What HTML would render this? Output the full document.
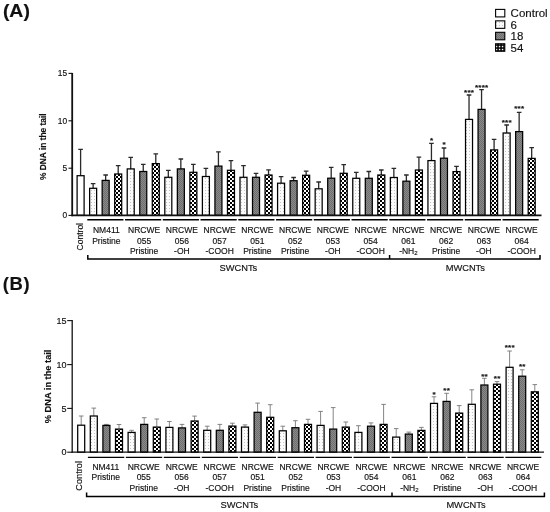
<!DOCTYPE html>
<html><head><meta charset="utf-8"><title>Figure</title>
<style>html,body{margin:0;padding:0;background:#fff}svg{display:block}text{font-family:'Liberation Sans', Arial, Helvetica, sans-serif;fill:#111;stroke:#111;stroke-width:.15px}</style>
</head><body>
<svg width="550" height="512" viewBox="0 0 550 512">
<defs>
<pattern id="p6" width="3" height="3" patternUnits="userSpaceOnUse"><rect width="3" height="3" fill="#fbfbfb"/><rect x="1" y="1" width="1" height="1" fill="#c4c4c4"/></pattern>
<pattern id="p18" width="2" height="2" patternUnits="userSpaceOnUse"><rect width="2" height="2" fill="#8a8a8a"/><rect width="1" height="1" fill="#6e6e6e"/><rect x="1" y="1" width="1" height="1" fill="#6e6e6e"/></pattern>
<pattern id="p54" width="4" height="4" patternUnits="userSpaceOnUse"><rect width="4" height="4" fill="#fff"/><rect width="2" height="2" fill="#000"/><rect x="2" y="2" width="2" height="2" fill="#000"/></pattern>
<pattern id="p54l" width="3" height="3" patternUnits="userSpaceOnUse"><rect width="3" height="3" fill="#000"/><rect x="0.8" y="0.8" width="1.5" height="1.5" fill="#fff"/></pattern>
</defs>
<rect width="550" height="512" fill="#fff"/>
<text transform="translate(2.9 17.4) scale(1.08 1.02)" font-size="18" font-weight="bold" fill="#000" stroke="#000" stroke-width="0.35">(A)</text>
<text y="290.4" font-size="18.4" font-weight="bold" fill="#000" stroke="#000" stroke-width="0.3"><tspan x="2.8">(</tspan><tspan x="9.6">B</tspan><tspan x="23.4">)</tspan></text>
<rect x="495.6" y="9.40" width="9.2" height="7.5" fill="#fff" stroke="#000" stroke-width="1.1"/>
<text x="510.6" y="17.30" font-size="11.5">Control</text>
<rect x="495.6" y="20.85" width="9.2" height="7.5" fill="url(#p6)" stroke="#000" stroke-width="1.1"/>
<text x="510.6" y="28.70" font-size="11.5">6</text>
<rect x="495.6" y="32.30" width="9.2" height="7.5" fill="url(#p18)" stroke="#000" stroke-width="1.1"/>
<text x="510.6" y="40.10" font-size="11.5">18</text>
<rect x="495.6" y="43.75" width="9.2" height="7.5" fill="url(#p54l)" stroke="#000" stroke-width="1.1"/>
<text x="510.6" y="51.50" font-size="11.5">54</text>
<path d="M80.60 175.70V149.30M78.30 149.30H82.90" stroke="#2a2a2a" stroke-width="1.3" fill="none"/>
<path d="M93.13 188.30V183.70M90.83 183.70H95.43" stroke="#2a2a2a" stroke-width="1.3" fill="none"/>
<path d="M105.66 180.40V175.00M103.36 175.00H107.96" stroke="#2a2a2a" stroke-width="1.3" fill="none"/>
<path d="M118.19 174.00V165.60M115.89 165.60H120.49" stroke="#2a2a2a" stroke-width="1.3" fill="none"/>
<path d="M130.72 168.90V157.40M128.42 157.40H133.02" stroke="#2a2a2a" stroke-width="1.3" fill="none"/>
<path d="M143.25 171.50V164.40M140.95 164.40H145.55" stroke="#2a2a2a" stroke-width="1.3" fill="none"/>
<path d="M155.78 163.60V153.80M153.48 153.80H158.08" stroke="#2a2a2a" stroke-width="1.3" fill="none"/>
<path d="M168.31 177.30V170.30M166.01 170.30H170.61" stroke="#2a2a2a" stroke-width="1.3" fill="none"/>
<path d="M180.84 168.90V159.00M178.54 159.00H183.14" stroke="#2a2a2a" stroke-width="1.3" fill="none"/>
<path d="M193.37 172.30V164.40M191.07 164.40H195.67" stroke="#2a2a2a" stroke-width="1.3" fill="none"/>
<path d="M205.90 176.50V168.30M203.60 168.30H208.20" stroke="#2a2a2a" stroke-width="1.3" fill="none"/>
<path d="M218.43 166.10V151.80M216.13 151.80H220.73" stroke="#2a2a2a" stroke-width="1.3" fill="none"/>
<path d="M230.96 170.30V160.70M228.66 160.70H233.26" stroke="#2a2a2a" stroke-width="1.3" fill="none"/>
<path d="M243.49 177.30V165.60M241.19 165.60H245.79" stroke="#2a2a2a" stroke-width="1.3" fill="none"/>
<path d="M256.02 177.30V173.30M253.72 173.30H258.32" stroke="#2a2a2a" stroke-width="1.3" fill="none"/>
<path d="M268.55 175.00V169.80M266.25 169.80H270.85" stroke="#2a2a2a" stroke-width="1.3" fill="none"/>
<path d="M281.08 183.20V176.70M278.78 176.70H283.38" stroke="#2a2a2a" stroke-width="1.3" fill="none"/>
<path d="M293.61 180.70V177.50M291.31 177.50H295.91" stroke="#2a2a2a" stroke-width="1.3" fill="none"/>
<path d="M306.14 175.30V171.10M303.84 171.10H308.44" stroke="#2a2a2a" stroke-width="1.3" fill="none"/>
<path d="M318.67 188.80V182.00M316.37 182.00H320.97" stroke="#2a2a2a" stroke-width="1.3" fill="none"/>
<path d="M331.20 178.20V167.40M328.90 167.40H333.50" stroke="#2a2a2a" stroke-width="1.3" fill="none"/>
<path d="M343.73 173.30V164.70M341.43 164.70H346.03" stroke="#2a2a2a" stroke-width="1.3" fill="none"/>
<path d="M356.26 178.30V172.30M353.96 172.30H358.56" stroke="#2a2a2a" stroke-width="1.3" fill="none"/>
<path d="M368.79 178.30V171.50M366.49 171.50H371.09" stroke="#2a2a2a" stroke-width="1.3" fill="none"/>
<path d="M381.32 175.00V170.00M379.02 170.00H383.62" stroke="#2a2a2a" stroke-width="1.3" fill="none"/>
<path d="M393.85 177.50V168.30M391.55 168.30H396.15" stroke="#2a2a2a" stroke-width="1.3" fill="none"/>
<path d="M406.38 181.20V175.00M404.08 175.00H408.68" stroke="#2a2a2a" stroke-width="1.3" fill="none"/>
<path d="M418.91 170.00V157.20M416.61 157.20H421.21" stroke="#2a2a2a" stroke-width="1.3" fill="none"/>
<path d="M431.44 160.60V143.40M429.14 143.40H433.74" stroke="#2a2a2a" stroke-width="1.3" fill="none"/>
<path d="M443.97 158.20V148.00M441.67 148.00H446.27" stroke="#2a2a2a" stroke-width="1.3" fill="none"/>
<path d="M456.50 171.60V166.40M454.20 166.40H458.80" stroke="#2a2a2a" stroke-width="1.3" fill="none"/>
<path d="M469.03 119.40V95.00M466.73 95.00H471.33" stroke="#2a2a2a" stroke-width="1.3" fill="none"/>
<path d="M481.56 109.40V89.60M479.26 89.60H483.86" stroke="#2a2a2a" stroke-width="1.3" fill="none"/>
<path d="M494.09 149.90V139.30M491.79 139.30H496.39" stroke="#2a2a2a" stroke-width="1.3" fill="none"/>
<path d="M506.62 133.00V125.00M504.32 125.00H508.92" stroke="#2a2a2a" stroke-width="1.3" fill="none"/>
<path d="M519.15 131.60V112.40M516.85 112.40H521.45" stroke="#2a2a2a" stroke-width="1.3" fill="none"/>
<path d="M531.68 158.40V147.60M529.38 147.60H533.98" stroke="#2a2a2a" stroke-width="1.3" fill="none"/>
<rect x="77.10" y="175.70" width="7" height="39.70" fill="#fff" stroke="#000" stroke-width="1.25"/>
<rect x="89.63" y="188.30" width="7" height="27.10" fill="url(#p6)" stroke="#000" stroke-width="1.25"/>
<rect x="102.16" y="180.40" width="7" height="35.00" fill="url(#p18)" stroke="#000" stroke-width="1.25"/>
<rect x="114.69" y="174.00" width="7" height="41.40" fill="url(#p54)" stroke="#000" stroke-width="1.25"/>
<rect x="127.22" y="168.90" width="7" height="46.50" fill="url(#p6)" stroke="#000" stroke-width="1.25"/>
<rect x="139.75" y="171.50" width="7" height="43.90" fill="url(#p18)" stroke="#000" stroke-width="1.25"/>
<rect x="152.28" y="163.60" width="7" height="51.80" fill="url(#p54)" stroke="#000" stroke-width="1.25"/>
<rect x="164.81" y="177.30" width="7" height="38.10" fill="url(#p6)" stroke="#000" stroke-width="1.25"/>
<rect x="177.34" y="168.90" width="7" height="46.50" fill="url(#p18)" stroke="#000" stroke-width="1.25"/>
<rect x="189.87" y="172.30" width="7" height="43.10" fill="url(#p54)" stroke="#000" stroke-width="1.25"/>
<rect x="202.40" y="176.50" width="7" height="38.90" fill="url(#p6)" stroke="#000" stroke-width="1.25"/>
<rect x="214.93" y="166.10" width="7" height="49.30" fill="url(#p18)" stroke="#000" stroke-width="1.25"/>
<rect x="227.46" y="170.30" width="7" height="45.10" fill="url(#p54)" stroke="#000" stroke-width="1.25"/>
<rect x="239.99" y="177.30" width="7" height="38.10" fill="url(#p6)" stroke="#000" stroke-width="1.25"/>
<rect x="252.52" y="177.30" width="7" height="38.10" fill="url(#p18)" stroke="#000" stroke-width="1.25"/>
<rect x="265.05" y="175.00" width="7" height="40.40" fill="url(#p54)" stroke="#000" stroke-width="1.25"/>
<rect x="277.58" y="183.20" width="7" height="32.20" fill="url(#p6)" stroke="#000" stroke-width="1.25"/>
<rect x="290.11" y="180.70" width="7" height="34.70" fill="url(#p18)" stroke="#000" stroke-width="1.25"/>
<rect x="302.64" y="175.30" width="7" height="40.10" fill="url(#p54)" stroke="#000" stroke-width="1.25"/>
<rect x="315.17" y="188.80" width="7" height="26.60" fill="url(#p6)" stroke="#000" stroke-width="1.25"/>
<rect x="327.70" y="178.20" width="7" height="37.20" fill="url(#p18)" stroke="#000" stroke-width="1.25"/>
<rect x="340.23" y="173.30" width="7" height="42.10" fill="url(#p54)" stroke="#000" stroke-width="1.25"/>
<rect x="352.76" y="178.30" width="7" height="37.10" fill="url(#p6)" stroke="#000" stroke-width="1.25"/>
<rect x="365.29" y="178.30" width="7" height="37.10" fill="url(#p18)" stroke="#000" stroke-width="1.25"/>
<rect x="377.82" y="175.00" width="7" height="40.40" fill="url(#p54)" stroke="#000" stroke-width="1.25"/>
<rect x="390.35" y="177.50" width="7" height="37.90" fill="url(#p6)" stroke="#000" stroke-width="1.25"/>
<rect x="402.88" y="181.20" width="7" height="34.20" fill="url(#p18)" stroke="#000" stroke-width="1.25"/>
<rect x="415.41" y="170.00" width="7" height="45.40" fill="url(#p54)" stroke="#000" stroke-width="1.25"/>
<rect x="427.94" y="160.60" width="7" height="54.80" fill="url(#p6)" stroke="#000" stroke-width="1.25"/>
<rect x="440.47" y="158.20" width="7" height="57.20" fill="url(#p18)" stroke="#000" stroke-width="1.25"/>
<rect x="453.00" y="171.60" width="7" height="43.80" fill="url(#p54)" stroke="#000" stroke-width="1.25"/>
<rect x="465.53" y="119.40" width="7" height="96.00" fill="url(#p6)" stroke="#000" stroke-width="1.25"/>
<rect x="478.06" y="109.40" width="7" height="106.00" fill="url(#p18)" stroke="#000" stroke-width="1.25"/>
<rect x="490.59" y="149.90" width="7" height="65.50" fill="url(#p54)" stroke="#000" stroke-width="1.25"/>
<rect x="503.12" y="133.00" width="7" height="82.40" fill="url(#p6)" stroke="#000" stroke-width="1.25"/>
<rect x="515.65" y="131.60" width="7" height="83.80" fill="url(#p18)" stroke="#000" stroke-width="1.25"/>
<rect x="528.18" y="158.40" width="7" height="57.00" fill="url(#p54)" stroke="#000" stroke-width="1.25"/>
<text x="431.59" y="142.80" font-size="8" font-weight="bold" text-anchor="middle" letter-spacing="0.3" stroke="none" fill="#000">*</text>
<text x="444.12" y="147.40" font-size="8" font-weight="bold" text-anchor="middle" letter-spacing="0.3" stroke="none" fill="#000">*</text>
<text x="469.18" y="94.70" font-size="8" font-weight="bold" text-anchor="middle" letter-spacing="0.3" stroke="none" fill="#000">***</text>
<text x="481.71" y="90.00" font-size="8" font-weight="bold" text-anchor="middle" letter-spacing="0.3" stroke="none" fill="#000">****</text>
<text x="506.77" y="124.50" font-size="8" font-weight="bold" text-anchor="middle" letter-spacing="0.3" stroke="none" fill="#000">***</text>
<text x="519.30" y="111.40" font-size="8" font-weight="bold" text-anchor="middle" letter-spacing="0.3" stroke="none" fill="#000">***</text>
<path d="M72.2 72.90V216.20" stroke="#111" stroke-width="1.8" fill="none"/>
<path d="M71.30 215.40H541.5" stroke="#111" stroke-width="1.6" fill="none"/>
<path d="M68.5 73.40H72.2" stroke="#111" stroke-width="1.1" fill="none"/>
<text x="67.2" y="76.42" font-size="8.4" text-anchor="end">15</text>
<path d="M68.5 120.80H72.2" stroke="#111" stroke-width="1.1" fill="none"/>
<text x="67.2" y="123.82" font-size="8.4" text-anchor="end">10</text>
<path d="M68.5 168.20H72.2" stroke="#111" stroke-width="1.1" fill="none"/>
<text x="67.2" y="171.22" font-size="8.4" text-anchor="end">5</text>
<path d="M68.5 215.40H72.2" stroke="#111" stroke-width="1.1" fill="none"/>
<text x="67.2" y="218.42" font-size="8.4" text-anchor="end">0</text>
<text transform="translate(46.3 146.7) rotate(-90)" font-size="8.4" font-weight="bold" text-anchor="middle" stroke-width="0.3">% DNA in the tail</text>
<text transform="translate(83 223) rotate(-90)" font-size="8.5" text-anchor="end">Control</text>
<path d="M87.30 219.8H123.45" stroke="#000" stroke-width="1.4" fill="none"/>
<text x="106.38" y="233.30" font-size="8.5" text-anchor="middle">NM411</text>
<text x="106.38" y="243.55" font-size="8.5" text-anchor="middle">Pristine</text>
<path d="M125.05 219.8H161.20" stroke="#000" stroke-width="1.4" fill="none"/>
<text x="144.12" y="233.30" font-size="8.5" text-anchor="middle">NRCWE</text>
<text x="144.12" y="243.55" font-size="8.5" text-anchor="middle">055</text>
<text x="144.12" y="253.80" font-size="8.5" text-anchor="middle">Pristine</text>
<path d="M162.80 219.8H198.95" stroke="#000" stroke-width="1.4" fill="none"/>
<text x="181.88" y="233.30" font-size="8.5" text-anchor="middle">NRCWE</text>
<text x="181.88" y="243.55" font-size="8.5" text-anchor="middle">056</text>
<text x="181.88" y="253.80" font-size="8.5" text-anchor="middle">-OH</text>
<path d="M200.55 219.8H236.70" stroke="#000" stroke-width="1.4" fill="none"/>
<text x="219.62" y="233.30" font-size="8.5" text-anchor="middle">NRCWE</text>
<text x="219.62" y="243.55" font-size="8.5" text-anchor="middle">057</text>
<text x="219.62" y="253.80" font-size="8.5" text-anchor="middle">-COOH</text>
<path d="M238.30 219.8H274.45" stroke="#000" stroke-width="1.4" fill="none"/>
<text x="257.38" y="233.30" font-size="8.5" text-anchor="middle">NRCWE</text>
<text x="257.38" y="243.55" font-size="8.5" text-anchor="middle">051</text>
<text x="257.38" y="253.80" font-size="8.5" text-anchor="middle">Pristine</text>
<path d="M276.05 219.8H312.20" stroke="#000" stroke-width="1.4" fill="none"/>
<text x="295.12" y="233.30" font-size="8.5" text-anchor="middle">NRCWE</text>
<text x="295.12" y="243.55" font-size="8.5" text-anchor="middle">052</text>
<text x="295.12" y="253.80" font-size="8.5" text-anchor="middle">Pristine</text>
<path d="M313.80 219.8H349.95" stroke="#000" stroke-width="1.4" fill="none"/>
<text x="332.88" y="233.30" font-size="8.5" text-anchor="middle">NRCWE</text>
<text x="332.88" y="243.55" font-size="8.5" text-anchor="middle">053</text>
<text x="332.88" y="253.80" font-size="8.5" text-anchor="middle">-OH</text>
<path d="M351.55 219.8H387.70" stroke="#000" stroke-width="1.4" fill="none"/>
<text x="370.62" y="233.30" font-size="8.5" text-anchor="middle">NRCWE</text>
<text x="370.62" y="243.55" font-size="8.5" text-anchor="middle">054</text>
<text x="370.62" y="253.80" font-size="8.5" text-anchor="middle">-COOH</text>
<path d="M389.30 219.8H425.45" stroke="#000" stroke-width="1.4" fill="none"/>
<text x="408.38" y="233.30" font-size="8.5" text-anchor="middle">NRCWE</text>
<text x="408.38" y="243.55" font-size="8.5" text-anchor="middle">061</text>
<text x="408.38" y="253.80" font-size="8.5" text-anchor="middle">-NH<tspan font-size="6" dy="1.6">2</tspan></text>
<path d="M427.05 219.8H463.20" stroke="#000" stroke-width="1.4" fill="none"/>
<text x="446.12" y="233.30" font-size="8.5" text-anchor="middle">NRCWE</text>
<text x="446.12" y="243.55" font-size="8.5" text-anchor="middle">062</text>
<text x="446.12" y="253.80" font-size="8.5" text-anchor="middle">Pristine</text>
<path d="M464.80 219.8H500.95" stroke="#000" stroke-width="1.4" fill="none"/>
<text x="483.88" y="233.30" font-size="8.5" text-anchor="middle">NRCWE</text>
<text x="483.88" y="243.55" font-size="8.5" text-anchor="middle">063</text>
<text x="483.88" y="253.80" font-size="8.5" text-anchor="middle">-OH</text>
<path d="M502.55 219.8H538.70" stroke="#000" stroke-width="1.4" fill="none"/>
<text x="521.62" y="233.30" font-size="8.5" text-anchor="middle">NRCWE</text>
<text x="521.62" y="243.55" font-size="8.5" text-anchor="middle">064</text>
<text x="521.62" y="253.80" font-size="8.5" text-anchor="middle">-COOH</text>
<path d="M87.80 255.10000000000002V259.1H540V255.10000000000002M389.60 259.1V255.10000000000002" stroke="#000" stroke-width="1.5" fill="none"/>
<text x="238.4" y="270.8" font-size="9.3" text-anchor="middle">SWCNTs</text>
<text x="465.3" y="270.8" font-size="9.3" text-anchor="middle">MWCNTs</text>
<path d="M81.20 425.20V416.00M78.90 416.00H83.50" stroke="#777" stroke-width="0.9" fill="none"/>
<path d="M93.80 416.00V408.10M91.50 408.10H96.10" stroke="#777" stroke-width="0.9" fill="none"/>
<path d="M106.40 425.40V424.40M104.10 424.40H108.70" stroke="#777" stroke-width="0.9" fill="none"/>
<path d="M119.00 429.10V424.50M116.70 424.50H121.30" stroke="#777" stroke-width="0.9" fill="none"/>
<path d="M131.60 432.40V430.30M129.30 430.30H133.90" stroke="#777" stroke-width="0.9" fill="none"/>
<path d="M144.20 424.40V417.70M141.90 417.70H146.50" stroke="#777" stroke-width="0.9" fill="none"/>
<path d="M156.80 427.10V419.00M154.50 419.00H159.10" stroke="#777" stroke-width="0.9" fill="none"/>
<path d="M169.40 427.40V421.50M167.10 421.50H171.70" stroke="#777" stroke-width="0.9" fill="none"/>
<path d="M182.00 427.90V424.40M179.70 424.40H184.30" stroke="#777" stroke-width="0.9" fill="none"/>
<path d="M194.60 421.00V416.10M192.30 416.10H196.90" stroke="#777" stroke-width="0.9" fill="none"/>
<path d="M207.20 430.30V426.20M204.90 426.20H209.50" stroke="#777" stroke-width="0.9" fill="none"/>
<path d="M219.80 430.30V424.40M217.50 424.40H222.10" stroke="#777" stroke-width="0.9" fill="none"/>
<path d="M232.40 426.10V423.20M230.10 423.20H234.70" stroke="#777" stroke-width="0.9" fill="none"/>
<path d="M245.00 427.10V424.90M242.70 424.90H247.30" stroke="#777" stroke-width="0.9" fill="none"/>
<path d="M257.60 412.30V403.10M255.30 403.10H259.90" stroke="#777" stroke-width="0.9" fill="none"/>
<path d="M270.20 417.30V404.70M267.90 404.70H272.50" stroke="#777" stroke-width="0.9" fill="none"/>
<path d="M282.80 430.80V426.20M280.50 426.20H285.10" stroke="#777" stroke-width="0.9" fill="none"/>
<path d="M295.40 427.70V420.70M293.10 420.70H297.70" stroke="#777" stroke-width="0.9" fill="none"/>
<path d="M308.00 424.40V419.30M305.70 419.30H310.30" stroke="#777" stroke-width="0.9" fill="none"/>
<path d="M320.60 425.40V411.40M318.30 411.40H322.90" stroke="#777" stroke-width="0.9" fill="none"/>
<path d="M333.20 429.10V407.60M330.90 407.60H335.50" stroke="#777" stroke-width="0.9" fill="none"/>
<path d="M345.80 427.10V422.00M343.50 422.00H348.10" stroke="#777" stroke-width="0.9" fill="none"/>
<path d="M358.40 432.40V425.70M356.10 425.70H360.70" stroke="#777" stroke-width="0.9" fill="none"/>
<path d="M371.00 426.20V422.90M368.70 422.90H373.30" stroke="#777" stroke-width="0.9" fill="none"/>
<path d="M383.60 424.40V404.40M381.30 404.40H385.90" stroke="#777" stroke-width="0.9" fill="none"/>
<path d="M396.20 437.10V428.60M393.90 428.60H398.50" stroke="#777" stroke-width="0.9" fill="none"/>
<path d="M408.80 434.10V432.10M406.50 432.10H411.10" stroke="#777" stroke-width="0.9" fill="none"/>
<path d="M421.40 430.40V427.40M419.10 427.40H423.70" stroke="#777" stroke-width="0.9" fill="none"/>
<path d="M434.00 403.40V396.80M431.70 396.80H436.30" stroke="#777" stroke-width="0.9" fill="none"/>
<path d="M446.60 401.40V393.30M444.30 393.30H448.90" stroke="#777" stroke-width="0.9" fill="none"/>
<path d="M459.20 413.10V405.60M456.90 405.60H461.50" stroke="#777" stroke-width="0.9" fill="none"/>
<path d="M471.80 404.30V389.80M469.50 389.80H474.10" stroke="#777" stroke-width="0.9" fill="none"/>
<path d="M484.40 385.00V378.30M482.10 378.30H486.70" stroke="#777" stroke-width="0.9" fill="none"/>
<path d="M497.00 384.20V381.60M494.70 381.60H499.30" stroke="#777" stroke-width="0.9" fill="none"/>
<path d="M509.60 367.30V351.00M507.30 351.00H511.90" stroke="#777" stroke-width="0.9" fill="none"/>
<path d="M522.20 376.20V369.80M519.90 369.80H524.50" stroke="#777" stroke-width="0.9" fill="none"/>
<path d="M534.80 391.80V384.60M532.50 384.60H537.10" stroke="#777" stroke-width="0.9" fill="none"/>
<rect x="77.70" y="425.20" width="7" height="27.00" fill="#fff" stroke="#000" stroke-width="1.25"/>
<rect x="90.30" y="416.00" width="7" height="36.20" fill="url(#p6)" stroke="#000" stroke-width="1.25"/>
<rect x="102.90" y="425.40" width="7" height="26.80" fill="url(#p18)" stroke="#000" stroke-width="1.25"/>
<rect x="115.50" y="429.10" width="7" height="23.10" fill="url(#p54)" stroke="#000" stroke-width="1.25"/>
<rect x="128.10" y="432.40" width="7" height="19.80" fill="url(#p6)" stroke="#000" stroke-width="1.25"/>
<rect x="140.70" y="424.40" width="7" height="27.80" fill="url(#p18)" stroke="#000" stroke-width="1.25"/>
<rect x="153.30" y="427.10" width="7" height="25.10" fill="url(#p54)" stroke="#000" stroke-width="1.25"/>
<rect x="165.90" y="427.40" width="7" height="24.80" fill="url(#p6)" stroke="#000" stroke-width="1.25"/>
<rect x="178.50" y="427.90" width="7" height="24.30" fill="url(#p18)" stroke="#000" stroke-width="1.25"/>
<rect x="191.10" y="421.00" width="7" height="31.20" fill="url(#p54)" stroke="#000" stroke-width="1.25"/>
<rect x="203.70" y="430.30" width="7" height="21.90" fill="url(#p6)" stroke="#000" stroke-width="1.25"/>
<rect x="216.30" y="430.30" width="7" height="21.90" fill="url(#p18)" stroke="#000" stroke-width="1.25"/>
<rect x="228.90" y="426.10" width="7" height="26.10" fill="url(#p54)" stroke="#000" stroke-width="1.25"/>
<rect x="241.50" y="427.10" width="7" height="25.10" fill="url(#p6)" stroke="#000" stroke-width="1.25"/>
<rect x="254.10" y="412.30" width="7" height="39.90" fill="url(#p18)" stroke="#000" stroke-width="1.25"/>
<rect x="266.70" y="417.30" width="7" height="34.90" fill="url(#p54)" stroke="#000" stroke-width="1.25"/>
<rect x="279.30" y="430.80" width="7" height="21.40" fill="url(#p6)" stroke="#000" stroke-width="1.25"/>
<rect x="291.90" y="427.70" width="7" height="24.50" fill="url(#p18)" stroke="#000" stroke-width="1.25"/>
<rect x="304.50" y="424.40" width="7" height="27.80" fill="url(#p54)" stroke="#000" stroke-width="1.25"/>
<rect x="317.10" y="425.40" width="7" height="26.80" fill="url(#p6)" stroke="#000" stroke-width="1.25"/>
<rect x="329.70" y="429.10" width="7" height="23.10" fill="url(#p18)" stroke="#000" stroke-width="1.25"/>
<rect x="342.30" y="427.10" width="7" height="25.10" fill="url(#p54)" stroke="#000" stroke-width="1.25"/>
<rect x="354.90" y="432.40" width="7" height="19.80" fill="url(#p6)" stroke="#000" stroke-width="1.25"/>
<rect x="367.50" y="426.20" width="7" height="26.00" fill="url(#p18)" stroke="#000" stroke-width="1.25"/>
<rect x="380.10" y="424.40" width="7" height="27.80" fill="url(#p54)" stroke="#000" stroke-width="1.25"/>
<rect x="392.70" y="437.10" width="7" height="15.10" fill="url(#p6)" stroke="#000" stroke-width="1.25"/>
<rect x="405.30" y="434.10" width="7" height="18.10" fill="url(#p18)" stroke="#000" stroke-width="1.25"/>
<rect x="417.90" y="430.40" width="7" height="21.80" fill="url(#p54)" stroke="#000" stroke-width="1.25"/>
<rect x="430.50" y="403.40" width="7" height="48.80" fill="url(#p6)" stroke="#000" stroke-width="1.25"/>
<rect x="443.10" y="401.40" width="7" height="50.80" fill="url(#p18)" stroke="#000" stroke-width="1.25"/>
<rect x="455.70" y="413.10" width="7" height="39.10" fill="url(#p54)" stroke="#000" stroke-width="1.25"/>
<rect x="468.30" y="404.30" width="7" height="47.90" fill="url(#p6)" stroke="#000" stroke-width="1.25"/>
<rect x="480.90" y="385.00" width="7" height="67.20" fill="url(#p18)" stroke="#000" stroke-width="1.25"/>
<rect x="493.50" y="384.20" width="7" height="68.00" fill="url(#p54)" stroke="#000" stroke-width="1.25"/>
<rect x="506.10" y="367.30" width="7" height="84.90" fill="url(#p6)" stroke="#000" stroke-width="1.25"/>
<rect x="518.70" y="376.20" width="7" height="76.00" fill="url(#p18)" stroke="#000" stroke-width="1.25"/>
<rect x="531.30" y="391.80" width="7" height="60.40" fill="url(#p54)" stroke="#000" stroke-width="1.25"/>
<text x="434.15" y="396.60" font-size="8" font-weight="bold" text-anchor="middle" letter-spacing="0.3" stroke="none" fill="#000">*</text>
<text x="446.75" y="392.90" font-size="8" font-weight="bold" text-anchor="middle" letter-spacing="0.3" stroke="none" fill="#000">**</text>
<text x="484.55" y="378.60" font-size="8" font-weight="bold" text-anchor="middle" letter-spacing="0.3" stroke="none" fill="#000">**</text>
<text x="497.15" y="380.90" font-size="8" font-weight="bold" text-anchor="middle" letter-spacing="0.3" stroke="none" fill="#000">**</text>
<text x="509.75" y="350.40" font-size="8" font-weight="bold" text-anchor="middle" letter-spacing="0.3" stroke="none" fill="#000">***</text>
<text x="522.35" y="369.20" font-size="8" font-weight="bold" text-anchor="middle" letter-spacing="0.3" stroke="none" fill="#000">**</text>
<path d="M72.2 320.10V452.80" stroke="#111" stroke-width="1.3" fill="none"/>
<path d="M71.55 452.20H544" stroke="#111" stroke-width="1.2" fill="none"/>
<path d="M67.2 320.60H72.2" stroke="#111" stroke-width="1.1" fill="none"/>
<text x="66.5" y="323.84" font-size="9.0" text-anchor="end">15</text>
<path d="M67.2 364.60H72.2" stroke="#111" stroke-width="1.1" fill="none"/>
<text x="66.5" y="367.84" font-size="9.0" text-anchor="end">10</text>
<path d="M67.2 408.40H72.2" stroke="#111" stroke-width="1.1" fill="none"/>
<text x="66.5" y="411.64" font-size="9.0" text-anchor="end">5</text>
<path d="M67.2 452.20H72.2" stroke="#111" stroke-width="1.1" fill="none"/>
<text x="66.5" y="455.44" font-size="9.0" text-anchor="end">0</text>
<text transform="translate(50.6 386.4) rotate(-90)" font-size="9.25" font-weight="bold" text-anchor="middle" stroke-width="0.3">% DNA in the tail</text>
<text transform="translate(81.8 461) rotate(-90)" font-size="9.2" text-anchor="end">Control</text>
<path d="M87.90 457.35H124.25" stroke="#000" stroke-width="1.4" fill="none"/>
<text x="105.78" y="470.00" font-size="8.5" text-anchor="middle">NM411</text>
<text x="105.78" y="480.35" font-size="8.5" text-anchor="middle">Pristine</text>
<path d="M125.85 457.35H162.20" stroke="#000" stroke-width="1.4" fill="none"/>
<text x="143.72" y="470.00" font-size="8.5" text-anchor="middle">NRCWE</text>
<text x="143.72" y="480.35" font-size="8.5" text-anchor="middle">055</text>
<text x="143.72" y="490.70" font-size="8.5" text-anchor="middle">Pristine</text>
<path d="M163.80 457.35H200.15" stroke="#000" stroke-width="1.4" fill="none"/>
<text x="181.68" y="470.00" font-size="8.5" text-anchor="middle">NRCWE</text>
<text x="181.68" y="480.35" font-size="8.5" text-anchor="middle">056</text>
<text x="181.68" y="490.70" font-size="8.5" text-anchor="middle">-OH</text>
<path d="M201.75 457.35H238.10" stroke="#000" stroke-width="1.4" fill="none"/>
<text x="219.62" y="470.00" font-size="8.5" text-anchor="middle">NRCWE</text>
<text x="219.62" y="480.35" font-size="8.5" text-anchor="middle">057</text>
<text x="219.62" y="490.70" font-size="8.5" text-anchor="middle">-COOH</text>
<path d="M239.70 457.35H276.05" stroke="#000" stroke-width="1.4" fill="none"/>
<text x="257.57" y="470.00" font-size="8.5" text-anchor="middle">NRCWE</text>
<text x="257.57" y="480.35" font-size="8.5" text-anchor="middle">051</text>
<text x="257.57" y="490.70" font-size="8.5" text-anchor="middle">Pristine</text>
<path d="M277.65 457.35H314.00" stroke="#000" stroke-width="1.4" fill="none"/>
<text x="295.53" y="470.00" font-size="8.5" text-anchor="middle">NRCWE</text>
<text x="295.53" y="480.35" font-size="8.5" text-anchor="middle">052</text>
<text x="295.53" y="490.70" font-size="8.5" text-anchor="middle">Pristine</text>
<path d="M315.60 457.35H351.95" stroke="#000" stroke-width="1.4" fill="none"/>
<text x="333.48" y="470.00" font-size="8.5" text-anchor="middle">NRCWE</text>
<text x="333.48" y="480.35" font-size="8.5" text-anchor="middle">053</text>
<text x="333.48" y="490.70" font-size="8.5" text-anchor="middle">-OH</text>
<path d="M353.55 457.35H389.90" stroke="#000" stroke-width="1.4" fill="none"/>
<text x="371.43" y="470.00" font-size="8.5" text-anchor="middle">NRCWE</text>
<text x="371.43" y="480.35" font-size="8.5" text-anchor="middle">054</text>
<text x="371.43" y="490.70" font-size="8.5" text-anchor="middle">-COOH</text>
<path d="M391.50 457.35H427.85" stroke="#000" stroke-width="1.4" fill="none"/>
<text x="409.38" y="470.00" font-size="8.5" text-anchor="middle">NRCWE</text>
<text x="409.38" y="480.35" font-size="8.5" text-anchor="middle">061</text>
<text x="409.38" y="490.70" font-size="8.5" text-anchor="middle">-NH<tspan font-size="6" dy="1.6">2</tspan></text>
<path d="M429.45 457.35H465.80" stroke="#000" stroke-width="1.4" fill="none"/>
<text x="447.32" y="470.00" font-size="8.5" text-anchor="middle">NRCWE</text>
<text x="447.32" y="480.35" font-size="8.5" text-anchor="middle">062</text>
<text x="447.32" y="490.70" font-size="8.5" text-anchor="middle">Pristine</text>
<path d="M467.40 457.35H503.75" stroke="#000" stroke-width="1.4" fill="none"/>
<text x="485.28" y="470.00" font-size="8.5" text-anchor="middle">NRCWE</text>
<text x="485.28" y="480.35" font-size="8.5" text-anchor="middle">063</text>
<text x="485.28" y="490.70" font-size="8.5" text-anchor="middle">-OH</text>
<path d="M505.35 457.35H541.30" stroke="#000" stroke-width="1.4" fill="none"/>
<text x="523.03" y="470.00" font-size="8.5" text-anchor="middle">NRCWE</text>
<text x="523.03" y="480.35" font-size="8.5" text-anchor="middle">064</text>
<text x="523.03" y="490.70" font-size="8.5" text-anchor="middle">-COOH</text>
<path d="M86.60 492.5V496.5H544.4V492.5M392.00 496.5V492.5" stroke="#000" stroke-width="1.5" fill="none"/>
<text x="239.4" y="508.3" font-size="9.3" text-anchor="middle">SWCNTs</text>
<text x="466.0" y="508.3" font-size="9.3" text-anchor="middle">MWCNTs</text>
</svg></body></html>
